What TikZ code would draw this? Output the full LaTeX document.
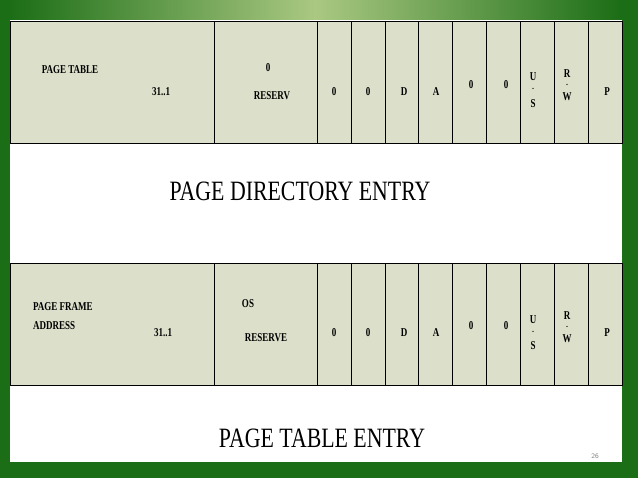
\documentclass[tikz,border=0pt]{standalone}
\usepackage{fontspec}
\setmainfont{Liberation Serif}
\begin{document}
\begin{tikzpicture}[x=1pt,y=-1pt,
  cell/.style={draw=black,line width=1pt,fill=cellc},
  lbl/.style={font=\bfseries\fontsize{12}{13}\selectfont,xscale=0.75,inner sep=0pt},
  dot/.style={font=\bfseries\fontsize{8}{8}\selectfont,inner sep=0pt},
  ttl/.style={font=\fontsize{28}{30}\selectfont,xscale=0.78,inner sep=0pt}]
\definecolor{cellc}{RGB}{220,224,202}
\definecolor{gdark}{RGB}{28,110,22}
\definecolor{glight}{RGB}{170,200,130}
\useasboundingbox (0,0) rectangle (638,478);
\fill[gdark] (0,0) rectangle (638,478);
\shade[left color=gdark,right color=gdark,middle color=glight] (10,0) rectangle (620,20);
\fill[white] (10,20) rectangle (622,462);
\foreach \y/\h in {22/144,264/386}{
  \draw[cell] (10,\y) rectangle (214,\h);
  \draw[cell] (214,\y) rectangle (317,\h);
  \foreach \a/\b in {317/351,351/385,385/418,418/452,452/486,486/520,520/554,554/588,588/622}
    \draw[cell] (\a,\y) rectangle (\b,\h);
}
% top row
\node[lbl] (t1) at (70,70) {PAGE TABLE};
\node[lbl] (t2) at (161,92) {31..1};
\node[lbl] (t3) at (268,68) {0};
\node[lbl] (t4) at (272,96) {RESERV};
\node[lbl] (t5) at (334,92) {0};
\node[lbl] (t6) at (368,92) {0};
\node[lbl] (t7) at (404,92) {D};
\node[lbl] (t8) at (436,92) {A};
\node[lbl] (t9) at (471,85) {0};
\node[lbl] (t10) at (506,85) {0};
\node[lbl] (t11) at (533,77) {U};
\node[dot] (t11b) at (533,89) {.};
\node[lbl] (t11c) at (533,104) {S};
\node[lbl] (t12) at (567,74) {R};
\node[dot] (t12b) at (567,85) {.};
\node[lbl] (t12c) at (567,97) {W};
\node[lbl] (t13) at (607,92) {P};
\node[ttl] (h1) at (300,191) {PAGE DIRECTORY ENTRY};
% bottom row
\node[lbl,anchor=west] (b1) at (33,307) {PAGE FRAME};
\node[lbl,anchor=west] (b1b) at (33,326) {ADDRESS};
\node[lbl] (b2) at (163,333) {31..1};
\node[lbl] (b3) at (248,304) {OS};
\node[lbl] (b4) at (266,338) {RESERVE};
\node[lbl] (b5) at (334,333) {0};
\node[lbl] (b6) at (368,333) {0};
\node[lbl] (b7) at (404,333) {D};
\node[lbl] (b8) at (436,333) {A};
\node[lbl] (b9) at (471,326) {0};
\node[lbl] (b10) at (506,326) {0};
\node[lbl] (b11) at (533,320) {U};
\node[dot] (b11b) at (533,332) {.};
\node[lbl] (b11c) at (533,346) {S};
\node[lbl] (b12) at (567,316) {R};
\node[dot] (b12b) at (567,327) {.};
\node[lbl] (b12c) at (567,339) {W};
\node[lbl] (b13) at (607,333) {P};
\node[ttl] (h2) at (322,438) {PAGE TABLE ENTRY};
\node[font=\sffamily\fontsize{7}{8}\selectfont,text=gray] (pg) at (595,456) {26};
\end{tikzpicture}
\end{document}
